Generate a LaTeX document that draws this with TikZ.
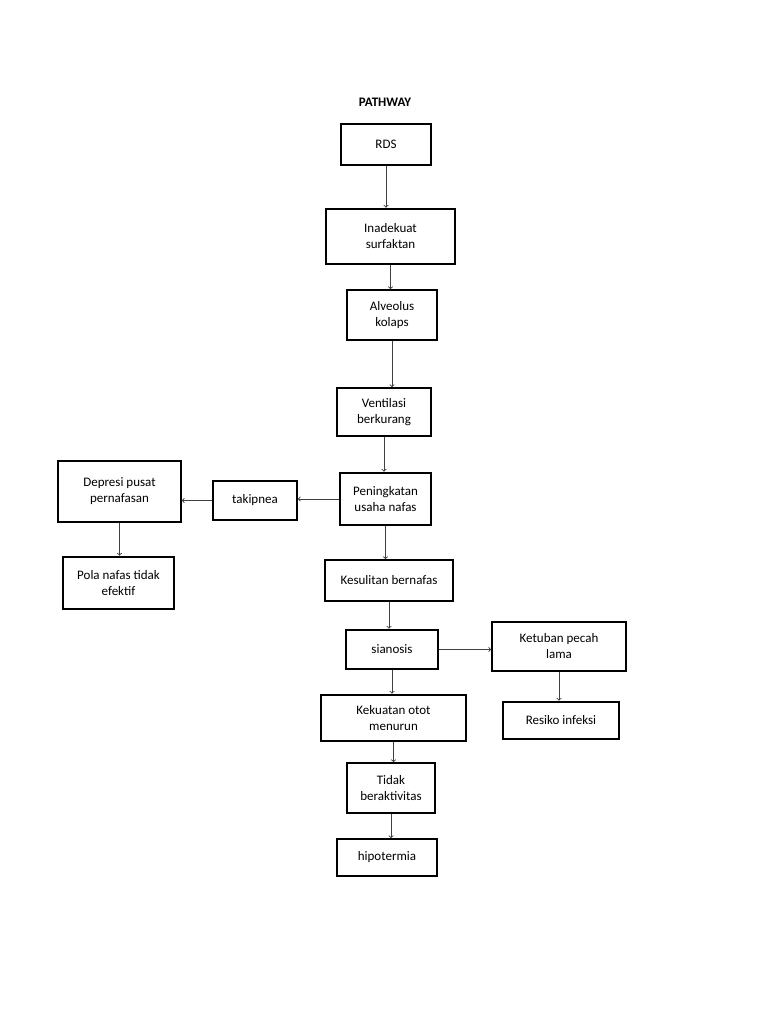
\documentclass[tikz,border=0pt]{standalone}
\usepackage{fontspec}
\setmainfont{Carlito}
\begin{document}
\begin{tikzpicture}[x=1pt, y=-1pt, font=\fontsize{13}{16}\selectfont,
    box/.style={draw, line width=1.6pt, align=center, inner sep=0pt},
    boxb/.style={box, line width=2.6pt},
    arr/.style={->, >=to, draw=black!75, line width=0.9pt}]
  \useasboundingbox (0,0) rectangle (768,1024);

  % Title
  \node[font=\fontsize{13}{16}\selectfont\bfseries] (title) at (385,102) {PATHWAY};

  % Main chain
  \node[box, minimum width=90pt, minimum height=41pt] (rds) at (386,144.5) {RDS};
  \node[boxb, minimum width=129pt, minimum height=55pt] (inad) at (390.5,236.5) {Inadekuat\\surfaktan};
  \node[box, minimum width=90pt, minimum height=50pt] (alv) at (392,315) {Alveolus\\kolaps};
  \node[box, minimum width=94pt, minimum height=48pt] (vent) at (384,412) {Ventilasi\\berkurang};
  \node[boxb, minimum width=91pt, minimum height=52pt] (pen) at (385.5,499) {Peningkatan\\usaha nafas};
  \node[box, minimum width=128pt, minimum height=41pt] (kes) at (389,580.5) {Kesulitan bernafas};
  \node[boxb, minimum width=92pt, minimum height=39pt] (sian) at (392,649.5) {sianosis};
  \node[boxb, minimum width=145pt, minimum height=46pt] (kek) at (393.5,718) {Kekuatan otot\\menurun};
  \node[box, minimum width=88pt, minimum height=50pt] (tdk) at (391,788) {Tidak\\beraktivitas};
  \node[box, minimum width=100pt, minimum height=37pt] (hipo) at (387,857.5) {hipotermia};

  % Left branch
  \node[box, minimum width=84pt, minimum height=39pt] (taki) at (255,500.5) {takipnea};
  \node[box, minimum width=123pt, minimum height=61pt] (dep) at (119.5,491.5) {Depresi pusat\\pernafasan};
  \node[boxb, minimum width=111pt, minimum height=52pt] (pola) at (118.5,583) {Pola nafas tidak\\efektif};

  % Right branch
  \node[box, minimum width=134pt, minimum height=49pt] (ket) at (559,646.5) {Ketuban pecah\\lama};
  \node[boxb, minimum width=116pt, minimum height=37pt] (res) at (561,720.5) {Resiko infeksi};

  % Arrows
  \foreach \a/\b in {rds/inad, inad/alv, alv/vent, vent/pen, pen/kes, kes/sian, sian/kek, kek/tdk, tdk/hipo, dep/pola, ket/res}
    \draw[arr] (\a.south) -- (\a.south |- \b.north);
  \draw[arr] (pen.west) -- (pen.west -| taki.east);
  \draw[arr] (taki.west) -- (taki.west -| dep.east);
  \draw[arr] (sian.east) -- (sian.east -| ket.west);
\end{tikzpicture}
\end{document}
